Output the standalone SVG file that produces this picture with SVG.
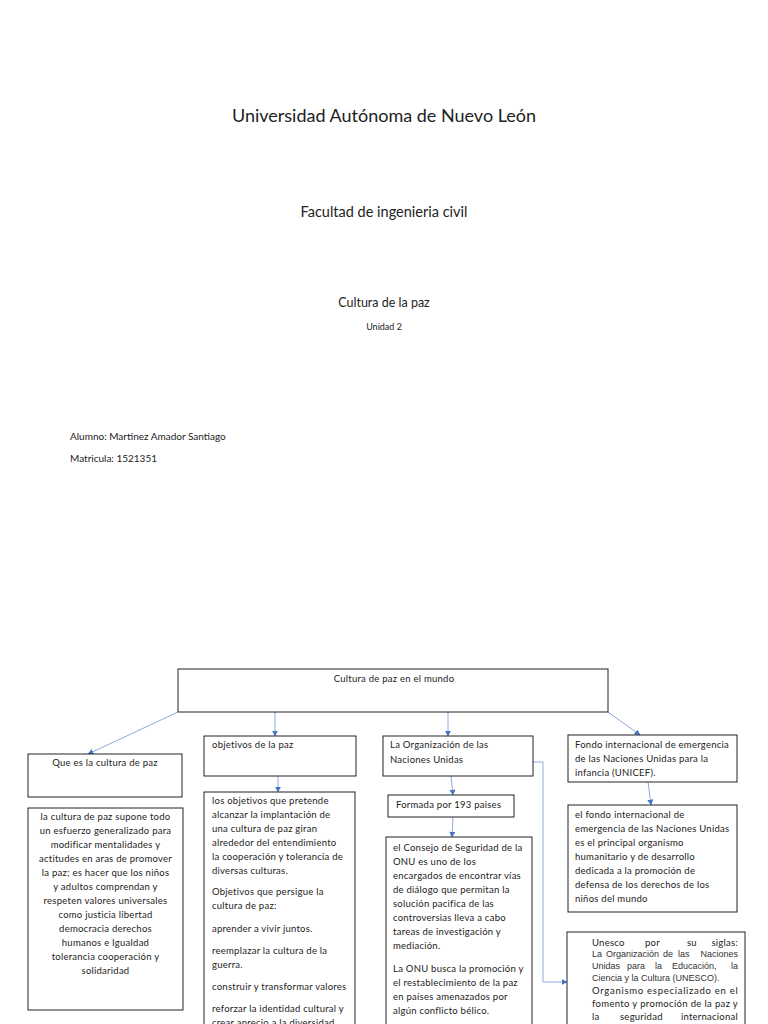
<svg xmlns="http://www.w3.org/2000/svg" width="768" height="1024" viewBox="0 0 768 1024">
<style>
text{font-family:Lato,"Open Sans","Noto Sans",sans-serif;fill:#222}
.t{font-size:9.5px;letter-spacing:0.25px}
.c{text-anchor:middle}
.e{text-anchor:end}
.box{fill:#fff;stroke:#222;stroke-width:1}
.con{fill:none;stroke:#8eaadb;stroke-width:1}
.ar{font-family:"Liberation Sans",Arial,sans-serif;font-size:9px;fill:#333}
</style>
<defs>
<marker id="ah" viewBox="0 0 10 10" refX="9" refY="5" markerWidth="6" markerHeight="6" orient="auto" markerUnits="userSpaceOnUse">
<path d="M0,0 L10,5 L0,10 z" fill="#4472c4"/>
</marker>
</defs>
<rect width="768" height="1024" fill="#fff"/>
<g id="header">
<text x="384" y="122" class="c" font-size="18">Universidad Autónoma de Nuevo León</text>
<text x="384" y="217" class="c" font-size="14.5">Facultad de ingenieria civil</text>
<text x="384" y="307" class="c" font-size="12.5">Cultura de la paz</text>
<text x="384" y="330" class="c" font-size="9">Unidad 2</text>
<text x="70" y="440" font-size="10">Alumno: Martinez Amador Santiago</text>
<text x="70" y="462" font-size="10">Matricula: 1521351</text>
</g>
<g id="connectors">
<path class="con" d="M178,712 L88,754" marker-end="url(#ah)"/>
<path class="con" d="M275,712 L275,736" marker-end="url(#ah)"/>
<path class="con" d="M448,712 L448,736" marker-end="url(#ah)"/>
<path class="con" d="M608,712 L640,735" marker-end="url(#ah)"/>
<path class="con" d="M278,776 L278,792" marker-end="url(#ah)"/>
<path class="con" d="M451,776 L453,795" marker-end="url(#ah)"/>
<path class="con" d="M453,817 L452,837" marker-end="url(#ah)"/>
<path class="con" d="M648,782 L651,805" marker-end="url(#ah)"/>
<path class="con" d="M533,762 H543 V982 H567" marker-end="url(#ah)"/>
</g>
<g id="root">
<rect class="box" x="178" y="669" width="430" height="43"/>
<text class="t c" x="394" y="682">Cultura de paz en el mundo</text>
</g>
<g id="que-es">
<rect class="box" x="28" y="754" width="154" height="43"/>
<text class="t c" x="105" y="766">Que es la cultura de paz</text>
</g>
<g id="que-es-texto">
<rect class="box" x="28" y="808" width="155" height="202"/>
<text class="t c" x="105.5" y="820">la cultura de paz supone todo</text>
<text class="t c" x="105.5" y="834">un esfuerzo generalizado para</text>
<text class="t c" x="105.5" y="848">modificar mentalidades y</text>
<text class="t c" x="105.5" y="862">actitudes en aras de promover</text>
<text class="t c" x="105.5" y="876">la paz; es hacer que los niños</text>
<text class="t c" x="105.5" y="890">y adultos comprendan y</text>
<text class="t c" x="105.5" y="904">respeten valores universales</text>
<text class="t c" x="105.5" y="918">como justicia libertad</text>
<text class="t c" x="105.5" y="932">democracia derechos</text>
<text class="t c" x="105.5" y="946">humanos e Igualdad</text>
<text class="t c" x="105.5" y="960">tolerancia cooperación y</text>
<text class="t c" x="105.5" y="974">solidaridad</text>
</g>
<g id="objetivos">
<rect class="box" x="204" y="736" width="152" height="40"/>
<text class="t" x="212" y="748">objetivos de la paz</text>
</g>
<g id="objetivos-texto">
<rect class="box" x="204" y="792" width="151" height="250"/>
<text class="t" x="212" y="804">los objetivos que pretende</text>
<text class="t" x="212" y="818">alcanzar la implantación de</text>
<text class="t" x="212" y="832">una cultura de paz  giran</text>
<text class="t" x="212" y="846">alrededor del  entendimiento</text>
<text class="t" x="212" y="860">la cooperación y tolerancia de</text>
<text class="t" x="212" y="874">diversas culturas.</text>
<text class="t" x="212" y="895">Objetivos que persigue la</text>
<text class="t" x="212" y="909">cultura de paz:</text>
<text class="t" x="212" y="932">aprender a vivir juntos.</text>
<text class="t" x="212" y="954">reemplazar la cultura de la</text>
<text class="t" x="212" y="968">guerra.</text>
<text class="t" x="212" y="990">construir y transformar valores</text>
<text class="t" x="212" y="1012">reforzar la identidad cultural y</text>
<text class="t" x="212" y="1026">crear aprecio a la diversidad</text>
</g>
<g id="onu">
<rect class="box" x="383" y="736" width="150" height="40"/>
<text class="t" x="390" y="748">La Organización de las</text>
<text class="t" x="390" y="763">Naciones Unidas</text>
</g>
<g id="formada">
<rect class="box" x="388" y="795" width="126" height="22"/>
<text class="t" x="396" y="808">Formada por 193 paises</text>
</g>
<g id="consejo">
<rect class="box" x="386" y="837" width="146" height="200"/>
<text class="t" x="393" y="851">el Consejo de Seguridad de la</text>
<text class="t" x="393" y="865">ONU es uno de los</text>
<text class="t" x="393" y="879">encargados de encontrar vías</text>
<text class="t" x="393" y="893">de diálogo que permitan la</text>
<text class="t" x="393" y="907">solución pacifica de las</text>
<text class="t" x="393" y="921">controversias lleva a cabo</text>
<text class="t" x="393" y="935">tareas de investigación y</text>
<text class="t" x="393" y="949">mediación.</text>
<text class="t" x="393" y="972">La ONU busca la promoción y</text>
<text class="t" x="393" y="986">el restablecimiento de la paz</text>
<text class="t" x="393" y="1000">en países amenazados por</text>
<text class="t" x="393" y="1014">algún conflicto bélico.</text>
</g>
<g id="unicef">
<rect class="box" x="568" y="735" width="169" height="47"/>
<text class="t" x="575" y="748">Fondo internacional de emergencia</text>
<text class="t" x="575" y="762">de las Naciones Unidas para la</text>
<text class="t" x="575" y="776">infancia (UNICEF).</text>
</g>
<g id="unicef-texto">
<rect class="box" x="568" y="805" width="169" height="107"/>
<text class="t" x="575" y="818">el fondo internacional de</text>
<text class="t" x="575" y="832">emergencia de las Naciones Unidas</text>
<text class="t" x="575" y="846">es el principal organismo</text>
<text class="t" x="575" y="860">humanitario y de desarrollo</text>
<text class="t" x="575" y="874">dedicada a la promoción de</text>
<text class="t" x="575" y="888">defensa de los derechos de los</text>
<text class="t" x="575" y="902">niños del mundo</text>
</g>
<g id="unesco">
<rect class="box" x="567" y="932" width="178" height="100"/>
<text class="t" x="592" y="946">Unesco</text>
<text class="t" x="645" y="946">por</text>
<text class="t" x="687" y="946">su</text>
<text class="t e" x="738" y="946">siglas:</text>
<text class="ar" x="592" y="957">La</text>
<text class="ar" x="606" y="957">Organización</text>
<text class="ar" x="663" y="957">de</text>
<text class="ar" x="678" y="957">las</text>
<text class="ar e" x="738" y="957">Naciones</text>
<text class="ar" x="592" y="969">Unidas</text>
<text class="ar" x="627" y="969">para</text>
<text class="ar" x="655" y="969">la</text>
<text class="ar" x="672" y="969">Educación,</text>
<text class="ar e" x="738" y="969">la</text>
<text class="ar" x="592" y="981">Ciencia y la Cultura (UNESCO).</text>
<text class="t" x="592" y="994" textLength="146" lengthAdjust="spacing">Organismo especializado en el</text>
<text class="t" x="592" y="1007" textLength="146" lengthAdjust="spacing">fomento y promoción de la paz y</text>
<text class="t" x="592" y="1020">la</text>
<text class="t" x="620" y="1020">seguridad</text>
<text class="t e" x="738" y="1020">internacional</text>
</g>
</svg>
